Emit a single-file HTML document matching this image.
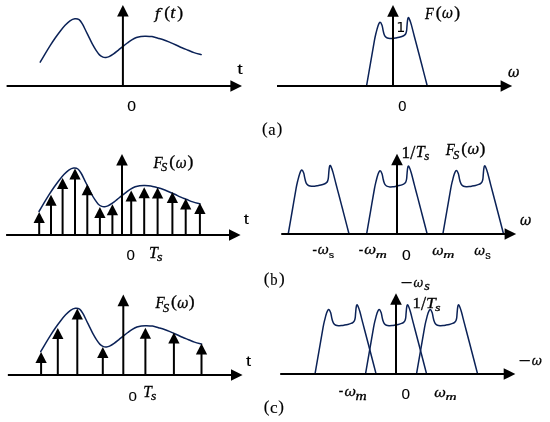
<!DOCTYPE html>
<html><head><meta charset="utf-8"><title>Sampling</title><style>
html,body{margin:0;padding:0;background:#fff;}
svg{display:block;}
.ax{stroke:#000;stroke-width:2;fill:none;}
.st{stroke:#000;stroke-width:2;fill:none;}
.ah{fill:#000;stroke:none;}
.cv{stroke:#0b2257;stroke-width:1.5;fill:none;stroke-linecap:round;stroke-linejoin:round;}
text{fill:#000;}
.mi{font-family:'Liberation Serif',serif;font-style:italic;font-size:15.700px;stroke:#000;stroke-width:0.30px;}
.mu{font-family:'Liberation Serif',serif;font-style:normal;font-size:15.700px;stroke:#000;stroke-width:0.30px;}
.mw{font-family:'DejaVu Serif',serif;font-style:italic;font-size:14.500px;stroke:#000;stroke-width:0.30px;}
.ms{font-family:'Liberation Serif',serif;font-style:italic;font-size:11.000px;stroke:#000;stroke-width:0.25px;}
.sn{font-family:'Liberation Sans',sans-serif;font-style:normal;font-size:15.000px;stroke:#000;stroke-width:0.12px;}
.sn1{font-family:'DejaVu Sans',sans-serif;font-style:normal;font-size:14.400px;stroke:#000;stroke-width:0.00px;}
.ss{font-family:'Liberation Sans',sans-serif;font-style:normal;font-size:11.000px;stroke:#000;stroke-width:0.20px;}
.sr{font-family:'Liberation Serif',serif;font-style:normal;font-size:17.000px;stroke:#000;stroke-width:0.15px;}</style></head>
<body><svg width="550" height="422" viewBox="0 0 550 422">
<path d="M40.20,62.20 C41.07,60.73 43.72,56.20 45.40,53.40 C47.08,50.60 48.67,47.97 50.30,45.40 C51.93,42.83 53.55,40.37 55.20,38.00 C56.85,35.63 58.55,33.32 60.20,31.20 C61.85,29.08 63.47,27.03 65.10,25.30 C66.73,23.57 68.37,21.88 70.00,20.80 C71.63,19.72 73.38,18.98 74.90,18.80 C76.42,18.62 77.83,18.80 79.10,19.70 C80.37,20.60 81.37,22.32 82.50,24.20 C83.63,26.08 84.77,28.72 85.90,31.00 C87.03,33.28 88.17,35.62 89.30,37.90 C90.43,40.18 91.57,42.62 92.70,44.70 C93.83,46.78 94.97,48.70 96.10,50.40 C97.23,52.10 98.35,53.78 99.50,54.90 C100.65,56.02 101.92,56.68 103.00,57.10 C104.08,57.52 104.98,57.48 106.00,57.40 C107.02,57.32 107.83,57.18 109.10,56.60 C110.37,56.02 112.08,54.95 113.60,53.90 C115.12,52.85 116.68,51.52 118.20,50.30 C119.72,49.08 121.18,47.82 122.70,46.60 C124.22,45.38 125.78,44.13 127.30,43.00 C128.82,41.87 130.28,40.72 131.80,39.80 C133.32,38.88 134.88,38.07 136.40,37.50 C137.92,36.93 139.30,36.62 140.90,36.40 C142.50,36.18 144.15,36.17 146.00,36.20 C147.85,36.23 150.00,36.27 152.00,36.60 C154.00,36.93 156.00,37.63 158.00,38.20 C160.00,38.77 162.00,39.30 164.00,40.00 C166.00,40.70 168.00,41.57 170.00,42.40 C172.00,43.23 174.00,44.10 176.00,45.00 C178.00,45.90 180.00,46.93 182.00,47.80 C184.00,48.67 186.00,49.40 188.00,50.20 C190.00,51.00 191.80,51.87 194.00,52.60 C196.20,53.33 200.00,54.27 201.20,54.60" class="cv"/>
<line x1="6.60" y1="86.00" x2="231.40" y2="86.00" class="ax"/><polygon points="230.40,80.20 242.00,86.00 230.40,91.80" class="ah"/>
<line x1="122.90" y1="86.00" x2="122.90" y2="15.60" class="ax"/><polygon points="117.10,16.60 122.90,5.00 128.70,16.60" class="ah"/>
<path d="M366.60,85.70 C367.25,81.95 369.20,70.72 370.50,63.20 C371.80,55.68 373.48,45.60 374.40,40.60 C375.32,35.60 375.40,35.65 376.00,33.20 C376.60,30.75 377.32,27.72 378.00,25.90 C378.68,24.08 379.43,22.40 380.10,22.30 C380.77,22.20 381.52,24.03 382.00,25.30 C382.48,26.57 382.67,28.47 383.00,29.90 C383.33,31.33 383.62,32.80 384.00,33.90 C384.38,35.00 384.75,35.82 385.30,36.50 C385.85,37.18 386.53,37.67 387.30,38.00 C388.07,38.33 388.97,38.43 389.90,38.50 C390.83,38.57 391.90,38.50 392.90,38.40 C393.90,38.30 394.85,38.10 395.90,37.90 C396.95,37.70 398.10,37.48 399.20,37.20 C400.30,36.92 401.62,36.55 402.50,36.20 C403.38,35.85 403.95,35.53 404.50,35.10 C405.05,34.67 405.45,34.35 405.80,33.60 C406.15,32.85 406.40,31.88 406.60,30.60 C406.80,29.32 406.85,27.57 407.00,25.90 C407.15,24.23 407.30,21.95 407.50,20.60 C407.70,19.25 407.92,18.13 408.20,17.80 C408.48,17.47 408.68,17.47 409.20,18.60 C409.72,19.73 410.45,21.67 411.30,24.60 C412.15,27.53 413.22,32.05 414.30,36.20 C415.38,40.35 416.72,45.37 417.80,49.50 C418.88,53.63 419.80,57.15 420.80,61.00 C421.80,64.85 422.73,68.48 423.80,72.60 C424.87,76.72 426.63,83.52 427.20,85.70" class="cv"/>
<line x1="277.00" y1="86.00" x2="501.60" y2="86.00" class="ax"/><polygon points="500.60,80.20 512.20,86.00 500.60,91.80" class="ah"/>
<line x1="393.00" y1="86.00" x2="393.00" y2="15.70" class="ax"/><polygon points="387.20,16.70 393.00,5.10 398.80,16.70" class="ah"/>
<path d="M39.00,211.50 C39.87,210.03 42.52,205.50 44.20,202.70 C45.88,199.90 47.47,197.27 49.10,194.70 C50.73,192.13 52.35,189.67 54.00,187.30 C55.65,184.93 57.35,182.62 59.00,180.50 C60.65,178.38 62.27,176.33 63.90,174.60 C65.53,172.87 67.17,171.18 68.80,170.10 C70.43,169.02 72.18,168.28 73.70,168.10 C75.22,167.92 76.63,168.10 77.90,169.00 C79.17,169.90 80.17,171.62 81.30,173.50 C82.43,175.38 83.57,178.02 84.70,180.30 C85.83,182.58 86.97,184.92 88.10,187.20 C89.23,189.48 90.37,191.92 91.50,194.00 C92.63,196.08 93.77,198.00 94.90,199.70 C96.03,201.40 97.15,203.08 98.30,204.20 C99.45,205.32 100.72,205.98 101.80,206.40 C102.88,206.82 103.78,206.78 104.80,206.70 C105.82,206.62 106.63,206.48 107.90,205.90 C109.17,205.32 110.88,204.25 112.40,203.20 C113.92,202.15 115.48,200.82 117.00,199.60 C118.52,198.38 119.98,197.12 121.50,195.90 C123.02,194.68 124.58,193.43 126.10,192.30 C127.62,191.17 129.08,190.02 130.60,189.10 C132.12,188.18 133.68,187.37 135.20,186.80 C136.72,186.23 138.10,185.92 139.70,185.70 C141.30,185.48 142.95,185.47 144.80,185.50 C146.65,185.53 148.80,185.57 150.80,185.90 C152.80,186.23 154.80,186.93 156.80,187.50 C158.80,188.07 160.80,188.60 162.80,189.30 C164.80,190.00 166.80,190.87 168.80,191.70 C170.80,192.53 172.80,193.40 174.80,194.30 C176.80,195.20 178.80,196.23 180.80,197.10 C182.80,197.97 184.80,198.70 186.80,199.50 C188.80,200.30 190.60,201.17 192.80,201.90 C195.00,202.63 198.80,203.57 200.00,203.90" class="cv"/>
<line x1="39.20" y1="235.00" x2="39.20" y2="222.00" class="st"/><polygon points="33.55,223.00 39.20,212.00 44.85,223.00" class="ah"/>
<line x1="51.00" y1="235.00" x2="51.00" y2="204.70" class="st"/><polygon points="45.35,205.70 51.00,194.70 56.65,205.70" class="ah"/>
<line x1="62.60" y1="235.00" x2="62.60" y2="187.90" class="st"/><polygon points="56.95,188.90 62.60,177.90 68.25,188.90" class="ah"/>
<line x1="75.00" y1="235.00" x2="75.00" y2="178.40" class="st"/><polygon points="69.35,179.40 75.00,168.40 80.65,179.40" class="ah"/>
<line x1="87.30" y1="235.00" x2="87.30" y2="194.20" class="st"/><polygon points="81.65,195.20 87.30,184.20 92.95,195.20" class="ah"/>
<line x1="99.90" y1="235.00" x2="99.90" y2="216.90" class="st"/><polygon points="94.25,217.90 99.90,206.90 105.55,217.90" class="ah"/>
<line x1="112.40" y1="235.00" x2="112.40" y2="214.30" class="st"/><polygon points="106.75,215.30 112.40,204.30 118.05,215.30" class="ah"/>
<line x1="131.20" y1="235.00" x2="131.20" y2="200.50" class="st"/><polygon points="125.55,201.50 131.20,190.50 136.85,201.50" class="ah"/>
<line x1="144.20" y1="235.00" x2="144.20" y2="197.30" class="st"/><polygon points="138.55,198.30 144.20,187.30 149.85,198.30" class="ah"/>
<line x1="157.60" y1="235.00" x2="157.60" y2="197.60" class="st"/><polygon points="151.95,198.60 157.60,187.60 163.25,198.60" class="ah"/>
<line x1="172.40" y1="235.00" x2="172.40" y2="202.00" class="st"/><polygon points="166.75,203.00 172.40,192.00 178.05,203.00" class="ah"/>
<line x1="185.70" y1="235.00" x2="185.70" y2="208.40" class="st"/><polygon points="180.05,209.40 185.70,198.40 191.35,209.40" class="ah"/>
<line x1="199.90" y1="235.00" x2="199.90" y2="213.10" class="st"/><polygon points="194.25,214.10 199.90,203.10 205.55,214.10" class="ah"/>
<line x1="6.10" y1="235.00" x2="230.00" y2="235.00" class="ax"/><polygon points="229.00,229.20 240.60,235.00 229.00,240.80" class="ah"/>
<line x1="122.00" y1="235.00" x2="122.00" y2="164.60" class="ax"/><polygon points="116.20,165.60 122.00,154.00 127.80,165.60" class="ah"/>
<path d="M288.30,233.50 C288.95,229.75 290.90,218.52 292.20,211.00 C293.50,203.48 295.18,193.40 296.10,188.40 C297.02,183.40 297.10,183.45 297.70,181.00 C298.30,178.55 299.02,175.52 299.70,173.70 C300.38,171.88 301.13,170.20 301.80,170.10 C302.47,170.00 303.22,171.83 303.70,173.10 C304.18,174.37 304.37,176.27 304.70,177.70 C305.03,179.13 305.32,180.60 305.70,181.70 C306.08,182.80 306.45,183.62 307.00,184.30 C307.55,184.98 308.23,185.47 309.00,185.80 C309.77,186.13 310.67,186.23 311.60,186.30 C312.53,186.37 313.60,186.30 314.60,186.20 C315.60,186.10 316.55,185.90 317.60,185.70 C318.65,185.50 319.80,185.28 320.90,185.00 C322.00,184.72 323.32,184.35 324.20,184.00 C325.08,183.65 325.65,183.33 326.20,182.90 C326.75,182.47 327.15,182.15 327.50,181.40 C327.85,180.65 328.10,179.68 328.30,178.40 C328.50,177.12 328.55,175.37 328.70,173.70 C328.85,172.03 329.00,169.75 329.20,168.40 C329.40,167.05 329.62,165.93 329.90,165.60 C330.18,165.27 330.38,165.27 330.90,166.40 C331.42,167.53 332.15,169.47 333.00,172.40 C333.85,175.33 334.92,179.85 336.00,184.00 C337.08,188.15 338.42,193.17 339.50,197.30 C340.58,201.43 341.50,204.95 342.50,208.80 C343.50,212.65 344.43,216.28 345.50,220.40 C346.57,224.52 348.33,231.32 348.90,233.50" class="cv"/>
<path d="M366.60,234.10 C367.25,230.35 369.20,219.12 370.50,211.60 C371.80,204.08 373.48,194.00 374.40,189.00 C375.32,184.00 375.40,184.05 376.00,181.60 C376.60,179.15 377.32,176.12 378.00,174.30 C378.68,172.48 379.43,170.80 380.10,170.70 C380.77,170.60 381.52,172.43 382.00,173.70 C382.48,174.97 382.67,176.87 383.00,178.30 C383.33,179.73 383.62,181.20 384.00,182.30 C384.38,183.40 384.75,184.22 385.30,184.90 C385.85,185.58 386.53,186.07 387.30,186.40 C388.07,186.73 388.97,186.83 389.90,186.90 C390.83,186.97 391.90,186.90 392.90,186.80 C393.90,186.70 394.85,186.50 395.90,186.30 C396.95,186.10 398.10,185.88 399.20,185.60 C400.30,185.32 401.62,184.95 402.50,184.60 C403.38,184.25 403.95,183.93 404.50,183.50 C405.05,183.07 405.45,182.75 405.80,182.00 C406.15,181.25 406.40,180.28 406.60,179.00 C406.80,177.72 406.85,175.97 407.00,174.30 C407.15,172.63 407.30,170.35 407.50,169.00 C407.70,167.65 407.92,166.53 408.20,166.20 C408.48,165.87 408.68,165.87 409.20,167.00 C409.72,168.13 410.45,170.07 411.30,173.00 C412.15,175.93 413.22,180.45 414.30,184.60 C415.38,188.75 416.72,193.77 417.80,197.90 C418.88,202.03 419.80,205.55 420.80,209.40 C421.80,213.25 422.73,216.88 423.80,221.00 C424.87,225.12 426.63,231.92 427.20,234.10" class="cv"/>
<path d="M442.90,233.90 C443.55,230.15 445.50,218.92 446.80,211.40 C448.10,203.88 449.78,193.80 450.70,188.80 C451.62,183.80 451.70,183.85 452.30,181.40 C452.90,178.95 453.62,175.92 454.30,174.10 C454.98,172.28 455.73,170.60 456.40,170.50 C457.07,170.40 457.82,172.23 458.30,173.50 C458.78,174.77 458.97,176.67 459.30,178.10 C459.63,179.53 459.92,181.00 460.30,182.10 C460.68,183.20 461.05,184.02 461.60,184.70 C462.15,185.38 462.83,185.87 463.60,186.20 C464.37,186.53 465.27,186.63 466.20,186.70 C467.13,186.77 468.20,186.70 469.20,186.60 C470.20,186.50 471.15,186.30 472.20,186.10 C473.25,185.90 474.40,185.68 475.50,185.40 C476.60,185.12 477.92,184.75 478.80,184.40 C479.68,184.05 480.25,183.73 480.80,183.30 C481.35,182.87 481.75,182.55 482.10,181.80 C482.45,181.05 482.70,180.08 482.90,178.80 C483.10,177.52 483.15,175.77 483.30,174.10 C483.45,172.43 483.60,170.15 483.80,168.80 C484.00,167.45 484.22,166.33 484.50,166.00 C484.78,165.67 484.98,165.67 485.50,166.80 C486.02,167.93 486.75,169.87 487.60,172.80 C488.45,175.73 489.52,180.25 490.60,184.40 C491.68,188.55 493.02,193.57 494.10,197.70 C495.18,201.83 496.10,205.35 497.10,209.20 C498.10,213.05 499.03,216.68 500.10,220.80 C501.17,224.92 502.93,231.72 503.50,233.90" class="cv"/>
<line x1="281.25" y1="234.00" x2="505.60" y2="234.00" class="ax"/><polygon points="504.60,228.20 516.20,234.00 504.60,239.80" class="ah"/>
<line x1="397.00" y1="234.00" x2="397.00" y2="164.30" class="ax"/><polygon points="391.20,165.30 397.00,153.70 402.80,165.30" class="ah"/>
<path d="M40.70,351.70 C41.57,350.23 44.22,345.70 45.90,342.90 C47.58,340.10 49.17,337.47 50.80,334.90 C52.43,332.33 54.05,329.87 55.70,327.50 C57.35,325.13 59.05,322.82 60.70,320.70 C62.35,318.58 63.97,316.53 65.60,314.80 C67.23,313.07 68.87,311.38 70.50,310.30 C72.13,309.22 73.88,308.48 75.40,308.30 C76.92,308.12 78.33,308.30 79.60,309.20 C80.87,310.10 81.87,311.82 83.00,313.70 C84.13,315.58 85.27,318.22 86.40,320.50 C87.53,322.78 88.67,325.12 89.80,327.40 C90.93,329.68 92.07,332.12 93.20,334.20 C94.33,336.28 95.47,338.20 96.60,339.90 C97.73,341.60 98.85,343.28 100.00,344.40 C101.15,345.52 102.42,346.18 103.50,346.60 C104.58,347.02 105.48,346.98 106.50,346.90 C107.52,346.82 108.33,346.68 109.60,346.10 C110.87,345.52 112.58,344.45 114.10,343.40 C115.62,342.35 117.18,341.02 118.70,339.80 C120.22,338.58 121.68,337.32 123.20,336.10 C124.72,334.88 126.28,333.63 127.80,332.50 C129.32,331.37 130.78,330.22 132.30,329.30 C133.82,328.38 135.38,327.57 136.90,327.00 C138.42,326.43 139.80,326.12 141.40,325.90 C143.00,325.68 144.65,325.67 146.50,325.70 C148.35,325.73 150.50,325.77 152.50,326.10 C154.50,326.43 156.50,327.13 158.50,327.70 C160.50,328.27 162.50,328.80 164.50,329.50 C166.50,330.20 168.50,331.07 170.50,331.90 C172.50,332.73 174.50,333.60 176.50,334.50 C178.50,335.40 180.50,336.43 182.50,337.30 C184.50,338.17 186.50,338.90 188.50,339.70 C190.50,340.50 192.30,341.37 194.50,342.10 C196.70,342.83 200.50,343.77 201.70,344.10" class="cv"/>
<line x1="41.10" y1="375.00" x2="41.10" y2="362.10" class="st"/><polygon points="35.45,363.10 41.10,352.10 46.75,363.10" class="ah"/>
<line x1="57.80" y1="375.00" x2="57.80" y2="338.00" class="st"/><polygon points="52.15,339.00 57.80,328.00 63.45,339.00" class="ah"/>
<line x1="77.30" y1="375.00" x2="77.30" y2="318.40" class="st"/><polygon points="71.65,319.40 77.30,308.40 82.95,319.40" class="ah"/>
<line x1="102.80" y1="375.00" x2="102.80" y2="357.10" class="st"/><polygon points="97.15,358.10 102.80,347.10 108.45,358.10" class="ah"/>
<line x1="145.40" y1="375.00" x2="145.40" y2="337.80" class="st"/><polygon points="139.75,338.80 145.40,327.80 151.05,338.80" class="ah"/>
<line x1="173.90" y1="375.00" x2="173.90" y2="342.40" class="st"/><polygon points="168.25,343.40 173.90,332.40 179.55,343.40" class="ah"/>
<line x1="201.50" y1="375.00" x2="201.50" y2="353.50" class="st"/><polygon points="195.85,354.50 201.50,343.50 207.15,354.50" class="ah"/>
<line x1="7.85" y1="375.00" x2="232.00" y2="375.00" class="ax"/><polygon points="231.00,369.20 242.60,375.00 231.00,380.80" class="ah"/>
<line x1="123.30" y1="375.00" x2="123.30" y2="305.15" class="ax"/><polygon points="117.50,306.15 123.30,294.55 129.10,306.15" class="ah"/>
<path d="M315.20,372.90 C315.85,369.15 317.80,357.92 319.10,350.40 C320.40,342.88 322.08,332.80 323.00,327.80 C323.92,322.80 324.00,322.85 324.60,320.40 C325.20,317.95 325.92,314.92 326.60,313.10 C327.28,311.28 328.03,309.60 328.70,309.50 C329.37,309.40 330.12,311.23 330.60,312.50 C331.08,313.77 331.27,315.67 331.60,317.10 C331.93,318.53 332.22,320.00 332.60,321.10 C332.98,322.20 333.35,323.02 333.90,323.70 C334.45,324.38 335.13,324.87 335.90,325.20 C336.67,325.53 337.57,325.63 338.50,325.70 C339.43,325.77 340.50,325.70 341.50,325.60 C342.50,325.50 343.45,325.30 344.50,325.10 C345.55,324.90 346.70,324.68 347.80,324.40 C348.90,324.12 350.22,323.75 351.10,323.40 C351.98,323.05 352.55,322.73 353.10,322.30 C353.65,321.87 354.05,321.55 354.40,320.80 C354.75,320.05 355.00,319.08 355.20,317.80 C355.40,316.52 355.45,314.77 355.60,313.10 C355.75,311.43 355.90,309.15 356.10,307.80 C356.30,306.45 356.52,305.33 356.80,305.00 C357.08,304.67 357.28,304.67 357.80,305.80 C358.32,306.93 359.05,308.87 359.90,311.80 C360.75,314.73 361.82,319.25 362.90,323.40 C363.98,327.55 365.32,332.57 366.40,336.70 C367.48,340.83 368.40,344.35 369.40,348.20 C370.40,352.05 371.33,355.68 372.40,359.80 C373.47,363.92 375.23,370.72 375.80,372.90" class="cv"/>
<path d="M365.70,372.90 C366.35,369.15 368.30,357.92 369.60,350.40 C370.90,342.88 372.58,332.80 373.50,327.80 C374.42,322.80 374.50,322.85 375.10,320.40 C375.70,317.95 376.42,314.92 377.10,313.10 C377.78,311.28 378.53,309.60 379.20,309.50 C379.87,309.40 380.62,311.23 381.10,312.50 C381.58,313.77 381.77,315.67 382.10,317.10 C382.43,318.53 382.72,320.00 383.10,321.10 C383.48,322.20 383.85,323.02 384.40,323.70 C384.95,324.38 385.63,324.87 386.40,325.20 C387.17,325.53 388.07,325.63 389.00,325.70 C389.93,325.77 391.00,325.70 392.00,325.60 C393.00,325.50 393.95,325.30 395.00,325.10 C396.05,324.90 397.20,324.68 398.30,324.40 C399.40,324.12 400.72,323.75 401.60,323.40 C402.48,323.05 403.05,322.73 403.60,322.30 C404.15,321.87 404.55,321.55 404.90,320.80 C405.25,320.05 405.50,319.08 405.70,317.80 C405.90,316.52 405.95,314.77 406.10,313.10 C406.25,311.43 406.40,309.15 406.60,307.80 C406.80,306.45 407.02,305.33 407.30,305.00 C407.58,304.67 407.78,304.67 408.30,305.80 C408.82,306.93 409.55,308.87 410.40,311.80 C411.25,314.73 412.32,319.25 413.40,323.40 C414.48,327.55 415.82,332.57 416.90,336.70 C417.98,340.83 418.90,344.35 419.90,348.20 C420.90,352.05 421.83,355.68 422.90,359.80 C423.97,363.92 425.73,370.72 426.30,372.90" class="cv"/>
<path d="M416.70,372.90 C417.35,369.15 419.30,357.92 420.60,350.40 C421.90,342.88 423.58,332.80 424.50,327.80 C425.42,322.80 425.50,322.85 426.10,320.40 C426.70,317.95 427.42,314.92 428.10,313.10 C428.78,311.28 429.53,309.60 430.20,309.50 C430.87,309.40 431.62,311.23 432.10,312.50 C432.58,313.77 432.77,315.67 433.10,317.10 C433.43,318.53 433.72,320.00 434.10,321.10 C434.48,322.20 434.85,323.02 435.40,323.70 C435.95,324.38 436.63,324.87 437.40,325.20 C438.17,325.53 439.07,325.63 440.00,325.70 C440.93,325.77 442.00,325.70 443.00,325.60 C444.00,325.50 444.95,325.30 446.00,325.10 C447.05,324.90 448.20,324.68 449.30,324.40 C450.40,324.12 451.72,323.75 452.60,323.40 C453.48,323.05 454.05,322.73 454.60,322.30 C455.15,321.87 455.55,321.55 455.90,320.80 C456.25,320.05 456.50,319.08 456.70,317.80 C456.90,316.52 456.95,314.77 457.10,313.10 C457.25,311.43 457.40,309.15 457.60,307.80 C457.80,306.45 458.02,305.33 458.30,305.00 C458.58,304.67 458.78,304.67 459.30,305.80 C459.82,306.93 460.55,308.87 461.40,311.80 C462.25,314.73 463.32,319.25 464.40,323.40 C465.48,327.55 466.82,332.57 467.90,336.70 C468.98,340.83 469.90,344.35 470.90,348.20 C471.90,352.05 472.83,355.68 473.90,359.80 C474.97,363.92 476.73,370.72 477.30,372.90" class="cv"/>
<line x1="280.20" y1="374.00" x2="504.70" y2="374.00" class="ax"/><polygon points="503.70,368.20 515.30,374.00 503.70,379.80" class="ah"/>
<line x1="396.00" y1="374.00" x2="396.00" y2="303.80" class="ax"/><polygon points="390.20,304.80 396.00,293.20 401.80,304.80" class="ah"/>
<text class="mw" transform="translate(154.74 18.82) scale(1.040 1.041)">f</text>
<text class="mu" transform="translate(164.26 18.03) scale(1.120 1.060)">(</text>
<text class="mi" transform="translate(170.31 18.44) scale(1.176 1.049)">t</text>
<text class="mu" transform="translate(177.15 18.03) scale(1.120 1.060)">)</text>
<text class="sn" transform="translate(237.27 73.76) scale(1.300 0.970)">t</text>
<text class="sn" transform="translate(127.28 111.35) scale(1.048 0.986)">0</text>
<text class="mi" transform="translate(425.03 18.70) scale(0.910 1.057)">F</text>
<text class="mu" transform="translate(435.76 18.03) scale(1.120 1.060)">(</text>
<text class="mw" transform="translate(441.97 18.46) scale(0.916 0.975)">ω</text>
<text class="mu" transform="translate(454.20 17.93) scale(1.120 1.060)">)</text>
<text class="sn1" transform="translate(396.31 31.80) scale(0.992 0.990)">1</text>
<text class="mw" transform="translate(508.06 76.56) scale(0.960 0.963)">ω</text>
<text class="sn" transform="translate(398.31 111.35) scale(0.979 0.986)">0</text>
<text class="sr" transform="translate(262.12 134.47) scale(0.994 0.994)">(</text>
<text class="sr" transform="translate(268.31 134.86) scale(0.971 0.970)">a</text>
<text class="sr" transform="translate(276.77 134.25) scale(0.974 0.974)">)</text>
<text class="mi" transform="translate(153.44 167.60) scale(0.960 1.010)">F</text>
<text class="ms" transform="translate(160.90 171.33) scale(1.145 1.084)">S</text>
<text class="mu" transform="translate(169.26 167.07) scale(1.120 1.060)">(</text>
<text class="mw" transform="translate(175.77 167.66) scale(0.907 0.963)">ω</text>
<text class="mu" transform="translate(187.40 167.07) scale(1.120 1.060)">)</text>
<text class="sn" transform="translate(243.79 223.76) scale(1.225 0.970)">t</text>
<text class="sn" transform="translate(126.60 260.27) scale(1.007 0.930)">0</text>
<text class="mi" transform="translate(149.08 257.60) scale(1.017 1.067)">T</text>
<text class="ms" transform="translate(156.90 260.53) scale(1.300 1.091)">s</text>
<text class="mu" transform="translate(401.53 157.70) scale(1.096 1.029)">1</text>
<text class="mu" transform="translate(410.19 159.19) scale(1.158 1.237)">/</text>
<text class="mi" transform="translate(415.87 157.40) scale(1.029 1.019)">T</text>
<text class="ms" transform="translate(424.30 160.32) scale(1.200 1.109)">s</text>
<text class="mi" transform="translate(445.74 154.90) scale(0.950 1.029)">F</text>
<text class="ms" transform="translate(452.90 158.54) scale(1.145 1.045)">S</text>
<text class="mu" transform="translate(461.36 154.28) scale(1.120 1.060)">(</text>
<text class="mw" transform="translate(467.56 154.36) scale(0.978 0.975)">ω</text>
<text class="mu" transform="translate(479.50 154.28) scale(1.120 1.060)">)</text>
<text class="mw" transform="translate(519.96 225.44) scale(0.951 1.037)">ω</text>
<text class="sn" transform="translate(312.30 254.70) scale(1.000 1.100)">-</text>
<text class="mw" transform="translate(317.87 254.27) scale(0.924 0.913)">ω</text>
<text class="ss" transform="translate(328.75 257.59) scale(0.980 0.832)">s</text>
<text class="sn" transform="translate(358.45 254.60) scale(1.000 1.100)">-</text>
<text class="mw" transform="translate(364.15 254.08) scale(0.987 0.875)">ω</text>
<text class="ms" transform="translate(375.75 257.50) scale(1.393 0.952)">m</text>
<text class="sn" transform="translate(401.88 260.15) scale(1.048 0.995)">0</text>
<text class="mw" transform="translate(432.36 255.18) scale(0.951 0.887)">ω</text>
<text class="ms" transform="translate(443.15 258.40) scale(1.393 0.933)">m</text>
<text class="mw" transform="translate(474.27 255.47) scale(0.907 0.938)">ω</text>
<text class="ss" transform="translate(485.35 258.87) scale(1.000 0.912)">s</text>
<text class="sr" transform="translate(263.63 284.13) scale(1.006 1.006)">(</text>
<text class="sr" transform="translate(270.20 285.36) scale(0.863 0.971)">b</text>
<text class="sr" transform="translate(278.98 284.13) scale(1.006 1.006)">)</text>
<text class="mi" transform="translate(155.44 307.90) scale(0.960 1.038)">F</text>
<text class="ms" transform="translate(162.70 311.53) scale(1.182 1.071)">S</text>
<text class="mu" transform="translate(170.91 307.43) scale(1.120 1.060)">(</text>
<text class="mw" transform="translate(177.37 308.44) scale(0.933 1.050)">ω</text>
<text class="mu" transform="translate(188.80 307.43) scale(1.120 1.060)">)</text>
<text class="sn" transform="translate(245.99 366.16) scale(1.225 0.950)">t</text>
<text class="sn" transform="translate(128.60 400.68) scale(1.007 0.884)">0</text>
<text class="mi" transform="translate(143.22 396.60) scale(0.983 1.019)">T</text>
<text class="ms" transform="translate(150.90 399.93) scale(1.250 1.091)">s</text>
<text class="mu" transform="translate(400.81 288.55) scale(1.320 1.200)">−</text>
<text class="mw" transform="translate(413.60 287.19) scale(0.818 0.850)">ω</text>
<text class="ms" transform="translate(424.30 290.24) scale(1.300 1.055)">s</text>
<text class="mu" transform="translate(412.40 307.50) scale(1.043 0.962)">1</text>
<text class="mu" transform="translate(420.99 309.58) scale(1.158 1.265)">/</text>
<text class="mi" transform="translate(426.08 307.50) scale(1.120 0.962)">T</text>
<text class="ms" transform="translate(434.90 310.65) scale(1.300 1.018)">s</text>
<text class="mu" transform="translate(518.69 366.80) scale(1.347 1.200)">−</text>
<text class="mw" transform="translate(531.69 364.87) scale(0.853 0.925)">ω</text>
<text class="sn" transform="translate(338.40 396.25) scale(1.000 1.100)">-</text>
<text class="mw" transform="translate(344.46 395.69) scale(0.960 0.837)">ω</text>
<text class="ms" transform="translate(355.45 399.70) scale(1.407 1.048)">m</text>
<text class="sn" transform="translate(401.39 399.35) scale(1.021 0.986)">0</text>
<text class="mw" transform="translate(434.36 396.57) scale(0.969 0.913)">ω</text>
<text class="ms" transform="translate(445.45 399.80) scale(1.393 0.990)">m</text>
<text class="sr" transform="translate(263.63 412.13) scale(1.006 1.006)">(</text>
<text class="sr" transform="translate(269.99 413.06) scale(1.015 0.958)">c</text>
<text class="sr" transform="translate(278.13 412.13) scale(1.006 1.006)">)</text>
</svg></body></html>
